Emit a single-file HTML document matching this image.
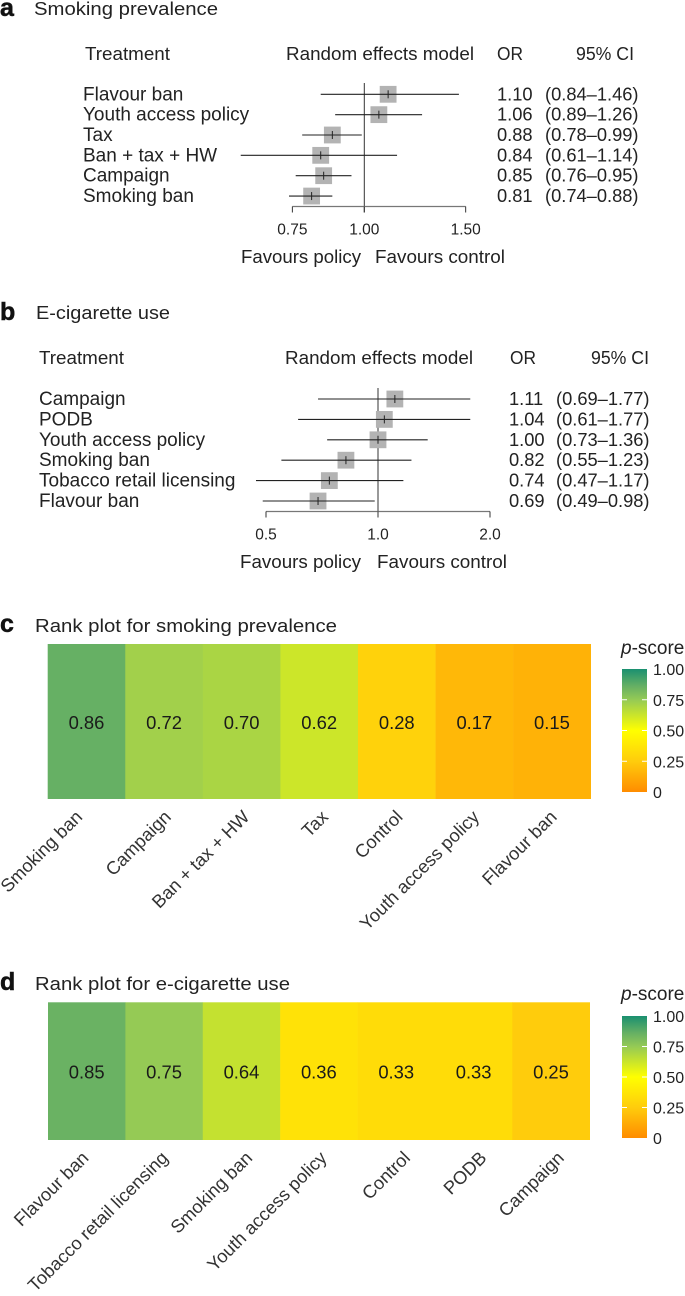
<!DOCTYPE html>
<html lang="en">
<head>
<meta charset="utf-8">
<title>Policy forest and rank plots</title>
<style>
html,body{margin:0;padding:0;background:#fff;}
svg{display:block;font-family:"Liberation Sans",sans-serif;fill:#222;}
.h{font-size:18px;}
.ttl{font-size:18.5px;}
.lbl{font-weight:bold;font-size:25px;fill:#111;stroke:#111;stroke-width:0.5px;}
</style>
</head>
<body>
<svg id="figure" width="685" height="1296" viewBox="0 0 685 1296" xmlns="http://www.w3.org/2000/svg">
<defs>
<linearGradient id="pscore-gradient" x1="0" y1="1" x2="0" y2="0">
<stop offset="0" stop-color="#ff8c00"/>
<stop offset="0.25" stop-color="#ffcc0c"/>
<stop offset="0.5" stop-color="#ffff00"/>
<stop offset="0.75" stop-color="#95ca55"/>
<stop offset="0.86" stop-color="#66b064"/>
<stop offset="1" stop-color="#1a9070"/>
</linearGradient>
</defs>

<text class="lbl" x="0" y="16">a</text>
<text class="ttl" x="34" y="15" textLength="184" lengthAdjust="spacingAndGlyphs">Smoking prevalence</text>
<text class="h" x="85" y="60" textLength="85" lengthAdjust="spacingAndGlyphs">Treatment</text>
<text class="h" x="286" y="60" textLength="188" lengthAdjust="spacingAndGlyphs">Random effects model</text>
<text class="h" x="497" y="60" textLength="26" lengthAdjust="spacingAndGlyphs">OR</text>
<text class="h" x="576" y="60" textLength="58" lengthAdjust="spacingAndGlyphs">95% CI</text>
<text class="h" x="241" y="263" textLength="120" lengthAdjust="spacingAndGlyphs">Favours policy</text>
<text class="h" x="375" y="263" textLength="130" lengthAdjust="spacingAndGlyphs">Favours control</text>
<g id="forest-a"></g>

<text class="lbl" x="0" y="320">b</text>
<text class="ttl" x="36" y="319" textLength="134" lengthAdjust="spacingAndGlyphs">E-cigarette use</text>
<text class="h" x="39" y="364" textLength="85" lengthAdjust="spacingAndGlyphs">Treatment</text>
<text class="h" x="285" y="364" textLength="188" lengthAdjust="spacingAndGlyphs">Random effects model</text>
<text class="h" x="510" y="364" textLength="26" lengthAdjust="spacingAndGlyphs">OR</text>
<text class="h" x="591" y="364" textLength="58" lengthAdjust="spacingAndGlyphs">95% CI</text>
<text class="h" x="240" y="568" textLength="121" lengthAdjust="spacingAndGlyphs">Favours policy</text>
<text class="h" x="377" y="568" textLength="130" lengthAdjust="spacingAndGlyphs">Favours control</text>
<g id="forest-b"></g>

<text class="lbl" x="0" y="632">c</text>
<text class="ttl" x="35" y="632" textLength="302" lengthAdjust="spacingAndGlyphs">Rank plot for smoking prevalence</text>
<g id="rank-c"></g>
<text x="621" y="654" font-size="19"><tspan font-style="italic">p</tspan>-score</text>
<rect x="622" y="669" width="25" height="123" fill="url(#pscore-gradient)"/>
<g id="legend-c"></g>

<text class="lbl" x="0" y="990">d</text>
<text class="ttl" x="35" y="990" textLength="255" lengthAdjust="spacingAndGlyphs">Rank plot for e-cigarette use</text>
<g id="rank-d"></g>
<text x="621" y="1000" font-size="19"><tspan font-style="italic">p</tspan>-score</text>
<rect x="622" y="1016" width="25" height="122" fill="url(#pscore-gradient)"/>
<g id="legend-d"></g>
</svg>

<script>
const forestATreatments = ['Flavour ban', 'Youth access policy', 'Tax', 'Ban + tax + HW', 'Campaign', 'Smoking ban'];
const forestAOR = [1.10, 1.06, 0.88, 0.84, 0.85, 0.81];
const forestALow = [0.84, 0.89, 0.78, 0.61, 0.76, 0.74];
const forestAHigh = [1.46, 1.26, 0.99, 1.14, 0.95, 0.88];
const forestATicks = [0.75, 1.00, 1.50];
const forestATickLabels = ['0.75', '1.00', '1.50'];

const forestBTreatments = ['Campaign', 'PODB', 'Youth access policy', 'Smoking ban', 'Tobacco retail licensing', 'Flavour ban'];
const forestBOR = [1.11, 1.04, 1.00, 0.82, 0.74, 0.69];
const forestBLow = [0.69, 0.61, 0.73, 0.55, 0.47, 0.49];
const forestBHigh = [1.77, 1.77, 1.36, 1.23, 1.17, 0.98];
const forestBTicks = [0.5, 1.0, 2.0];
const forestBTickLabels = ['0.5', '1.0', '2.0'];

const rankCCategories = ['Smoking ban', 'Campaign', 'Ban + tax + HW', 'Tax', 'Control', 'Youth access policy', 'Flavour ban'];
const rankCValues = [0.86, 0.72, 0.70, 0.62, 0.28, 0.17, 0.15];

const rankDCategories = ['Flavour ban', 'Tobacco retail licensing', 'Smoking ban', 'Youth access policy', 'Control', 'PODB', 'Campaign'];
const rankDValues = [0.85, 0.75, 0.64, 0.36, 0.33, 0.33, 0.25];

const legendTicks = [0, 0.25, 0.5, 0.75, 1];
const legendTickLabels = ['0', '0.25', '0.50', '0.75', '1.00'];

const NS = 'http://www.w3.org/2000/svg';

function make(parent, tag, attrs, content) {
  const node = document.createElementNS(NS, tag);
  for (const key in attrs) node.setAttribute(key, attrs[key]);
  if (content !== undefined) node.textContent = content;
  parent.appendChild(node);
  return node;
}

function colorScale(v) {
  const at = [0, 0.25, 0.5, 0.75, 0.86, 1];
  const rgb = [[255,140,0],[255,204,12],[255,255,0],[149,202,85],[102,176,100],[26,144,112]];
  const t = Math.max(0, Math.min(1, v));
  let i = 0;
  while (i < at.length - 2 && t > at[i + 1]) i++;
  const f = (t - at[i]) / (at[i + 1] - at[i]);
  const c = rgb[i].map((a, k) => Math.round(a + (rgb[i + 1][k] - a) * f));
  return 'rgb(' + c.join(',') + ')';
}

function drawForest(g, cfg, names, or, low, high, ticks, tickLabels) {
  const x = v => cfg.x1 + cfg.k * Math.log(v);
  const y = i => cfg.y0 + cfg.step * i;

  const ref = make(g, 'line', {x1: x(1), x2: x(1), y1: cfg.refTop, y2: cfg.axisY + 6, stroke: '#333', 'stroke-width': 1});
  
  

  const axis = make(g, 'line', {x1: x(ticks[0]), x2: x(ticks[ticks.length - 1]), y1: cfg.axisY, y2: cfg.axisY, stroke: '#777', 'stroke-width': 1.2});
  
  

  ticks.forEach((t, i) => {
    const tick = make(g, 'line', {x1: x(t), x2: x(t), y1: cfg.axisY, y2: cfg.axisY + 6, stroke: '#333', 'stroke-width': 1});
    
    
    const lab = make(g, 'text', {x: x(t), y: cfg.axisY + 28, 'text-anchor': 'middle', 'font-size': 15.5}, tickLabels[i]);
    
    
  });

  names.forEach((name, i) => {
    const cy = y(i);
    const square = make(g, 'rect', {x: x(or[i]) - 8.4, y: cy - 8.4, width: 16.8, height: 16.8, fill: '#b3b3b3'});
    
    

    const ci = make(g, 'line', {x1: x(low[i]), x2: x(high[i]), y1: cy, y2: cy, stroke: '#222', 'stroke-width': 1.1});
    
    

    const mid = make(g, 'line', {x1: x(or[i]), x2: x(or[i]), y1: cy - 4, y2: cy + 4, stroke: '#222', 'stroke-width': 1});
    
    

    const label = make(g, 'text', {x: cfg.nameX, y: cy + 6, 'font-size': 19}, name);
    
    

    const orText = make(g, 'text', {x: cfg.orX, y: cy + 6, 'font-size': 18.3}, or[i].toFixed(2));
    
    

    const ciText = make(g, 'text', {x: cfg.ciX, y: cy + 6, 'font-size': 18.3}, '(' + low[i].toFixed(2) + '\u2013' + high[i].toFixed(2) + ')');
    
    
  });
}

function drawRank(g, cfg, names, values) {
  const w = (cfg.right - cfg.left) / values.length;
  values.forEach((v, i) => {
    const cell = make(g, 'rect', {x: cfg.left + w * i, y: cfg.top, width: w + 0.3, height: cfg.bottom - cfg.top, fill: colorScale(v)});
    
    
  });
  values.forEach((v, i) => {
    const cx = cfg.left + w * (i + 0.5);
    const val = make(g, 'text', {x: cx, y: (cfg.top + cfg.bottom) / 2 + 7.5, 'text-anchor': 'middle', 'font-size': 18.4, fill: '#1a1a1a'}, v.toFixed(2));
    
    
    const ax = cx + 8 + cfg.labelNudge[i];
    const ay = cfg.bottom + 19;
    const lab = make(g, 'text', {x: ax, y: ay, 'text-anchor': 'end', 'font-size': 18.3, fill: '#333', transform: 'rotate(-45 ' + ax + ' ' + ay + ')'}, names[i]);
    
    
  });
}

function drawLegend(g, top, bottom) {
  const y = v => bottom - (bottom - top) * v;
  legendTicks.forEach((t, i) => {
    if (t > 0 && t < 1) {
      const l = make(g, 'line', {x1: 622, x2: 627, y1: y(t), y2: y(t), stroke: '#fff', 'stroke-width': 1});
      
      
      const r = make(g, 'line', {x1: 642, x2: 647, y1: y(t), y2: y(t), stroke: '#fff', 'stroke-width': 1});
      
      
    }
    const lab = make(g, 'text', {x: 653, y: y(t) + 6, 'font-size': 16}, legendTickLabels[i]);
    
    
  });
}

drawForest(document.getElementById('forest-a'),
  {x1: 364.3, k: 250, y0: 94.3, step: 20.35, refTop: 83, axisY: 206.5, nameX: 83, orX: 497, ciX: 545},
  forestATreatments, forestAOR, forestALow, forestAHigh, forestATicks, forestATickLabels);

drawForest(document.getElementById('forest-b'),
  {x1: 378, k: 161.6, y0: 399, step: 20.4, refTop: 388, axisY: 511.5, nameX: 39, orX: 509, ciX: 556},
  forestBTreatments, forestBOR, forestBLow, forestBHigh, forestBTicks, forestBTickLabels);

drawRank(document.getElementById('rank-c'),
  {left: 47.7, right: 590.7, top: 644, bottom: 799, labelNudge: [-11, 0, 1, 2, -1, -2, -2]},
  rankCCategories, rankCValues);
drawRank(document.getElementById('rank-d'),
  {left: 48, right: 589.7, top: 1002.3, bottom: 1140, labelNudge: [-5, -3, 4, 1, 7, 6, 6]},
  rankDCategories, rankDValues);

drawLegend(document.getElementById('legend-c'), 669, 792);
drawLegend(document.getElementById('legend-d'), 1016, 1138);
</script>
</body>
</html>
